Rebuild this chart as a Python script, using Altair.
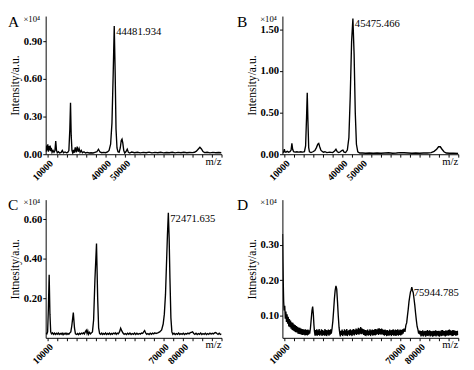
import json
import altair as alt
import pandas as pd

FONT = "Liberation Serif, Times New Roman, serif"

# ---------------- data (m/z, intensity x10^4) ----------------
A_spectrum = [
    (9200, 0.02), (9500, 0.07), (9800, 0.03), (10100, 0.08), (10400, 0.02), (10700, 0.065),
    (11000, 0.03), (11300, 0.07), (11600, 0.025), (11900, 0.05), (12300, 0.015), (12800, 0.03),
    (13300, 0.015), (13800, 0.03), (14200, 0.105), (14600, 0.03), (15000, 0.012), (15600, 0.02),
    (16200, 0.01), (17000, 0.015), (17600, 0.03), (18200, 0.012), (19000, 0.018), (19800, 0.012),
    (20400, 0.015), (21000, 0.03), (21500, 0.2), (21850, 0.41), (22200, 0.15), (22600, 0.03),
    (23000, 0.01), (23400, 0.035), (23800, 0.012), (24300, 0.055), (24800, 0.015), (25300, 0.06),
    (25800, 0.02), (26300, 0.045), (26800, 0.015), (27400, 0.03), (28000, 0.012), (28800, 0.02),
    (29600, 0.01), (30500, 0.015), (31500, 0.01), (32500, 0.012), (33500, 0.01), (34500, 0.015),
    (35500, 0.02), (36300, 0.04), (37100, 0.018), (38000, 0.012), (39000, 0.015), (40000, 0.012),
    (41000, 0.018), (41800, 0.03), (42600, 0.08), (43300, 0.25), (43950, 0.65), (44480, 1.02),
    (44950, 0.65), (45400, 0.2), (45900, 0.05), (46400, 0.02), (47000, 0.015), (47600, 0.05),
    (48100, 0.11), (48500, 0.12), (48900, 0.09), (49400, 0.03), (49900, 0.01), (50500, 0.02),
    (51200, 0.04), (51800, 0.015), (52500, 0.01), (53500, 0.018), (55000, 0.012), (56500, 0.016),
    (58000, 0.011), (59500, 0.015), (61000, 0.012), (62500, 0.017), (64000, 0.011), (65500, 0.015),
    (67000, 0.012), (68500, 0.016), (70000, 0.011), (71500, 0.014), (73000, 0.012), (74500, 0.016),
    (76000, 0.011), (77500, 0.015), (79000, 0.012), (80500, 0.016), (82000, 0.012), (83500, 0.014),
    (85000, 0.013), (86000, 0.016), (87000, 0.025), (88000, 0.042), (88800, 0.056), (89600, 0.042),
    (90400, 0.022), (91200, 0.013), (92500, 0.016), (94000, 0.011), (95500, 0.015), (97000, 0.012),
    (98500, 0.014), (100000, 0.012),
]

B_spectrum = [
    (9200, 0.03), (9600, 0.025), (10000, 0.06), (10300, 0.03), (10800, 0.025), (11500, 0.035),
    (12200, 0.025), (12900, 0.03), (13500, 0.05), (13900, 0.13), (14300, 0.06), (14800, 0.03),
    (15500, 0.025), (16500, 0.03), (17500, 0.025), (18500, 0.03), (19500, 0.025), (20400, 0.03),
    (21000, 0.1), (21500, 0.45), (21850, 0.74), (22200, 0.4), (22600, 0.08), (23000, 0.03),
    (23800, 0.02), (24800, 0.03), (25800, 0.045), (26600, 0.08), (27300, 0.12), (27800, 0.13),
    (28300, 0.09), (28900, 0.05), (29500, 0.035), (30200, 0.025), (31000, 0.03), (32000, 0.02),
    (33500, 0.025), (35000, 0.02), (36000, 0.04), (36700, 0.06), (37400, 0.03), (38200, 0.02),
    (39000, 0.03), (39700, 0.045), (40300, 0.05), (40900, 0.025), (41700, 0.02), (42600, 0.05),
    (43400, 0.2), (44100, 0.7), (44800, 1.35), (45475, 1.63), (46100, 1.2), (46700, 0.5),
    (47300, 0.12), (48000, 0.03), (49000, 0.015), (50500, 0.015), (52000, 0.012), (54000, 0.015),
    (56000, 0.012), (58000, 0.015), (60000, 0.012), (62000, 0.015), (64000, 0.018), (66000, 0.012),
    (68000, 0.015), (70000, 0.02), (72000, 0.018), (74000, 0.015), (76000, 0.012), (78000, 0.015),
    (80000, 0.012), (82000, 0.015), (84000, 0.015), (86000, 0.02), (87500, 0.035), (88800, 0.06),
    (89800, 0.09), (90700, 0.09), (91600, 0.06), (92600, 0.03), (93800, 0.015), (95500, 0.012),
    (97500, 0.012), (100000, 0.01),
]

C_spectrum = [
    (9200, 0.025), (9600, 0.02), (10000, 0.03), (10400, 0.15), (10800, 0.32), (11200, 0.12),
    (11600, 0.03), (12000, 0.02), (12500, 0.025), (13000, 0.018), (13500, 0.024), (14000, 0.017),
    (14500, 0.023), (15000, 0.018), (15500, 0.025), (16000, 0.017), (16500, 0.022), (17000, 0.018),
    (17500, 0.024), (18000, 0.016), (18500, 0.023), (19000, 0.018), (19500, 0.024), (20000, 0.017),
    (20500, 0.022), (21000, 0.018), (21500, 0.025), (22000, 0.03), (22500, 0.06), (23300, 0.128),
    (23900, 0.05), (24400, 0.02), (25000, 0.017), (25500, 0.022), (26000, 0.016), (26500, 0.023),
    (27000, 0.018), (27500, 0.024), (28000, 0.02), (28500, 0.026), (29000, 0.02), (29500, 0.03),
    (30000, 0.038), (30400, 0.022), (30800, 0.035), (31200, 0.018), (31700, 0.028), (32200, 0.02),
    (32700, 0.025), (33200, 0.03), (33800, 0.09), (34500, 0.3), (35300, 0.478), (35900, 0.2),
    (36400, 0.05), (36900, 0.022), (37500, 0.018), (38000, 0.024), (38500, 0.017), (39000, 0.022),
    (39500, 0.018), (40000, 0.025), (40500, 0.017), (41000, 0.022), (41500, 0.018), (42000, 0.024),
    (42500, 0.017), (43000, 0.022), (43500, 0.018), (44000, 0.024), (44500, 0.02), (45000, 0.025),
    (45500, 0.018), (46000, 0.024), (46600, 0.02), (47200, 0.03), (47800, 0.049), (48400, 0.035),
    (49000, 0.024), (49600, 0.018), (50200, 0.022), (50800, 0.017), (51400, 0.023), (52000, 0.018),
    (52600, 0.024), (53200, 0.017), (53800, 0.022), (54400, 0.018), (55000, 0.024), (55600, 0.017),
    (56200, 0.023), (56800, 0.018), (57400, 0.022), (58000, 0.019), (58600, 0.024), (59200, 0.022),
    (59800, 0.032), (60200, 0.037), (60700, 0.025), (61300, 0.018), (61900, 0.022), (62500, 0.017),
    (63100, 0.023), (63700, 0.018), (64300, 0.024), (64900, 0.02), (65500, 0.025), (66100, 0.022),
    (67000, 0.025), (68000, 0.03), (69000, 0.04), (69800, 0.07), (70400, 0.12), (71000, 0.22),
    (71500, 0.37), (72000, 0.52), (72471, 0.633), (72900, 0.5), (73300, 0.3), (73800, 0.1),
    (74300, 0.03), (74800, 0.018), (75400, 0.023), (76000, 0.017), (76600, 0.022), (77200, 0.018),
    (77800, 0.024), (78400, 0.017), (79000, 0.022), (79600, 0.018), (80200, 0.023), (80800, 0.017),
    (81400, 0.022), (82000, 0.019), (82600, 0.024), (83200, 0.02), (83800, 0.026), (84400, 0.028),
    (85000, 0.03), (85600, 0.022), (86200, 0.018), (86800, 0.023), (87400, 0.017), (88000, 0.022),
    (88600, 0.018), (89200, 0.024), (89800, 0.017), (90400, 0.022), (91000, 0.018), (91600, 0.023),
    (92200, 0.017), (92800, 0.022), (93400, 0.018), (94000, 0.024), (94600, 0.019), (95200, 0.023),
    (95800, 0.02), (96400, 0.025), (97000, 0.027), (97600, 0.022), (98200, 0.018), (98800, 0.023),
    (99400, 0.017), (100000, 0.02),
]

D_spectrum = [
    (9050, 0.33), (9250, 0.25), (9450, 0.19), (9650, 0.14), (9900, 0.115), (10200, 0.128),
    (10500, 0.092), (10800, 0.112), (11100, 0.083), (11400, 0.104), (11700, 0.078), (12000, 0.097),
    (12300, 0.07), (12600, 0.091), (12900, 0.068), (13200, 0.087), (13500, 0.064), (13800, 0.082),
    (14100, 0.06), (14400, 0.08), (14700, 0.058), (15000, 0.076), (15300, 0.056), (15600, 0.074),
    (15900, 0.054), (16200, 0.071), (16500, 0.053), (16800, 0.069), (17100, 0.05), (17400, 0.067),
    (17700, 0.049), (18000, 0.066), (18300, 0.048), (18600, 0.064), (18900, 0.047), (19200, 0.063),
    (19500, 0.046), (19800, 0.062), (20100, 0.047), (20400, 0.061), (20700, 0.045), (21000, 0.062),
    (21300, 0.046), (21600, 0.06), (21900, 0.045), (22200, 0.061), (22500, 0.047), (22800, 0.059),
    (23100, 0.05), (23500, 0.065), (23900, 0.09), (24300, 0.115), (24650, 0.126), (25000, 0.105),
    (25300, 0.075), (25600, 0.055),
    (25900, 0.044), (26200, 0.06), (26500, 0.045), (26800, 0.062), (27100, 0.044), (27400, 0.059),
    (27700, 0.046), (28000, 0.063), (28300, 0.044), (28600, 0.058), (28900, 0.047), (29200, 0.062),
    (29500, 0.043), (29800, 0.06), (30100, 0.046), (30400, 0.058), (30700, 0.044), (31000, 0.063),
    (31300, 0.045), (31600, 0.06), (31900, 0.043), (32200, 0.059), (32500, 0.047), (32800, 0.061),
    (33100, 0.044), (33400, 0.06), (33700, 0.047), (34000, 0.062), (34300, 0.05),
    (34700, 0.065), (35100, 0.085), (35500, 0.115), (35900, 0.148), (36300, 0.172),
    (36700, 0.184), (37100, 0.175), (37500, 0.14), (37900, 0.1), (38300, 0.068), (38700, 0.05),
    (39000, 0.042), (39300, 0.058), (39600, 0.046), (39900, 0.061), (40200, 0.043), (40500, 0.057),
    (40800, 0.047), (41100, 0.062), (41400, 0.044), (41700, 0.059), (42000, 0.045), (42300, 0.063),
    (42600, 0.043), (42900, 0.058), (43200, 0.047), (43500, 0.06), (43800, 0.044), (44100, 0.062),
    (44400, 0.046), (44700, 0.059), (45000, 0.043), (45300, 0.061), (45600, 0.047), (45900, 0.063),
    (46200, 0.045), (46500, 0.06), (46800, 0.048), (47100, 0.064), (47400, 0.046), (47700, 0.062),
    (48000, 0.049), (48300, 0.066), (48600, 0.047), (48900, 0.064), (49200, 0.05), (49500, 0.068),
    (49800, 0.048), (50100, 0.065), (50400, 0.05), (50700, 0.063), (51000, 0.046), (51300, 0.061),
    (51600, 0.045), (51900, 0.06), (52200, 0.043), (52500, 0.059), (52800, 0.046), (53100, 0.061),
    (53400, 0.044), (53700, 0.058), (54000, 0.046), (54300, 0.062), (54600, 0.043), (54900, 0.059),
    (55200, 0.047), (55500, 0.061), (55800, 0.044), (56100, 0.06), (56400, 0.046), (56700, 0.062),
    (57000, 0.045), (57300, 0.063), (57600, 0.047), (57900, 0.061), (58200, 0.048), (58500, 0.064),
    (58800, 0.046), (59100, 0.065), (59400, 0.049), (59700, 0.063), (60000, 0.047), (60300, 0.064),
    (60600, 0.048), (60900, 0.062), (61200, 0.046), (61500, 0.06), (61800, 0.044), (62100, 0.061),
    (62400, 0.046), (62700, 0.059), (63000, 0.043), (63300, 0.06), (63600, 0.045), (63900, 0.058),
    (64200, 0.044), (64500, 0.061), (64800, 0.046), (65100, 0.059), (65400, 0.043), (65700, 0.06),
    (66000, 0.046), (66300, 0.062), (66600, 0.044), (66900, 0.059), (67200, 0.045), (67500, 0.061),
    (67800, 0.043), (68100, 0.06), (68400, 0.046), (68700, 0.062), (69000, 0.044), (69300, 0.059),
    (69600, 0.046), (69900, 0.061), (70200, 0.045), (70500, 0.06), (70800, 0.047), (71100, 0.062),
    (71400, 0.05), (71900, 0.064), (72400, 0.055), (72900, 0.074), (73300, 0.08), (73700, 0.1),
    (74100, 0.118), (74500, 0.14), (74900, 0.155), (75300, 0.168), (75600, 0.172), (75944, 0.181),
    (76300, 0.172), (76700, 0.165), (77100, 0.148), (77500, 0.13), (77900, 0.108), (78300, 0.088),
    (78700, 0.07), (79100, 0.062), (79500, 0.05), (79800, 0.058),
    (80100, 0.048), (80400, 0.058), (80700, 0.042), (81000, 0.057), (81300, 0.044), (81600, 0.059),
    (81900, 0.042), (82200, 0.056), (82500, 0.045), (82800, 0.058), (83100, 0.041), (83400, 0.057),
    (83700, 0.044), (84000, 0.06), (84300, 0.043), (84600, 0.058), (84900, 0.045), (85200, 0.059),
    (85500, 0.042), (85800, 0.057), (86100, 0.044), (86400, 0.056), (86700, 0.041), (87000, 0.058),
    (87300, 0.043), (87600, 0.057), (87900, 0.044), (88200, 0.059), (88500, 0.042), (88800, 0.058),
    (89100, 0.045), (89400, 0.057), (89700, 0.043), (90000, 0.058), (90300, 0.041), (90600, 0.056),
    (90900, 0.044), (91200, 0.059), (91500, 0.043), (91800, 0.06), (92100, 0.045), (92400, 0.058),
    (92700, 0.044), (93000, 0.057), (93300, 0.042), (93600, 0.059), (93900, 0.044), (94200, 0.058),
    (94500, 0.045), (94800, 0.06), (95100, 0.044), (95400, 0.061), (95700, 0.046), (96000, 0.059),
    (96300, 0.045), (96600, 0.058), (96900, 0.043), (97200, 0.06), (97500, 0.044), (97800, 0.059),
    (98100, 0.046), (98400, 0.058), (98700, 0.044), (99000, 0.057), (99300, 0.045), (99600, 0.058),
    (99900, 0.046),
]

# labelled peaks: (m/z, intensity, label)
A_peak = (44481.934, 1.02, "44481.934")
B_peak = (45475.466, 1.63, "45475.466")
C_peak = (72471.635, 0.633, "72471.635")
D_peak = (75944.785, 0.181, "75944.785")

X_DOMAIN = [9000, 100000]
X_TICKS = [10000, 15000, 20000, 25000, 30000, 35000, 40000, 45000, 50000, 55000,
           60000, 65000, 70000, 75000, 80000, 85000, 90000, 95000, 100000]

A_xlabels = [10000, 40000, 50000]
B_xlabels = [10000, 40000, 50000]
C_xlabels = [10000, 70000, 80000]
D_xlabels = [10000, 70000, 80000]

A_ydomain, A_yticks = [0, 1.1], [0.0, 0.3, 0.6, 0.9]
B_ydomain, B_yticks = [0, 1.66], [0.0, 0.5, 1.0, 1.5]
C_ydomain, C_yticks = [0, 0.70], [0.2, 0.4, 0.6]
D_ydomain, D_yticks = [0.038, 0.427], [0.1, 0.2, 0.3]

Y_TITLES = {"A": "Intensity/a.u.", "B": "Intensity/a.u.",
            "C": "Intnesity/a.u.", "D": "Intnesity/a.u."}

W, H = 182, 143


def panel(letter, spectrum, peak, ydomain, yticks, xlabels, letter_x):
    df = pd.DataFrame(spectrum, columns=["mz", "I"])
    pk = pd.DataFrame([peak], columns=["mz", "I", "label"])
    one = pd.DataFrame({"k": [0]})
    xs = alt.Scale(domain=X_DOMAIN, nice=False, zero=False)
    ys = alt.Scale(domain=ydomain, nice=False, zero=False)
    label_expr = ("indexof(" + json.dumps(xlabels) +
                  ", datum.value) >= 0 ? format(datum.value, 'd') : ''")
    xaxis = alt.Axis(values=X_TICKS, labelExpr=label_expr, labelAngle=315,
                     labelAlign="right", labelBaseline="top", labelFontSize=10,
                     labelFontWeight="bold",
                     labelOverlap=False, labelFlush=False, tickSize=3,
                     labelPadding=1, grid=False, title=None)
    yaxis = alt.Axis(values=yticks, format=".2f", tickSize=3, labelPadding=1,
                     labelFontSize=11, labelFontWeight="bold", grid=False,
                     title=Y_TITLES[letter],
                     titleFontSize=12, titleFontWeight="normal", titlePadding=2)
    xenc = alt.X("mz:Q", scale=xs, axis=xaxis)
    yenc = alt.Y("I:Q", scale=ys, axis=yaxis)
    line = alt.Chart(df).mark_line(color="black", strokeWidth=1.4, clip=True).encode(
        x=xenc, y=yenc)
    ptxt = alt.Chart(pk).mark_text(align="left", baseline="top", dx=2, fontSize=11,
                                   font=FONT, color="black").encode(
        x=xenc, y=yenc, text="label:N")
    let = alt.Chart(one).mark_text(text=letter, align="left", baseline="top",
                                   fontSize=16, font=FONT, color="black").encode(
        x=alt.value(letter_x), y=alt.value(-2))
    x10 = alt.Chart(one).mark_text(text="×10⁴", align="left", baseline="top",
                                   fontSize=9, font=FONT, color="black").encode(
        x=alt.value(-23), y=alt.value(-1))
    mz = alt.Chart(one).mark_text(text="m/z", align="right", baseline="top",
                                  fontSize=11, font=FONT, color="black").encode(
        x=alt.value(W), y=alt.value(H + 2))
    return alt.layer(line, ptxt, let, x10, mz).properties(width=W, height=H)


pA = panel("A", A_spectrum, A_peak, A_ydomain, A_yticks, A_xlabels, -39)
pB = panel("B", B_spectrum, B_peak, B_ydomain, B_yticks, B_xlabels, -47)
pC = panel("C", C_spectrum, C_peak, C_ydomain, C_yticks, C_xlabels, -39)
pD = panel("D", D_spectrum, D_peak, D_ydomain, D_yticks, D_xlabels, -47)

chart = alt.concat(pA, pB, pC, pD, columns=2,
                   spacing={"row": 47, "column": 63}, bounds="flush").properties(
    padding={"left": 0, "top": 0, "right": 0, "bottom": 0},
    background="white",
).configure_view(stroke=None).configure_axis(
    labelFont=FONT, titleFont=FONT, domainColor="black", tickColor="black",
    labelColor="black", titleColor="black", domainWidth=1, tickWidth=1,
)

chart.save("out.html", embed_options={"renderer": "svg", "actions": False})
